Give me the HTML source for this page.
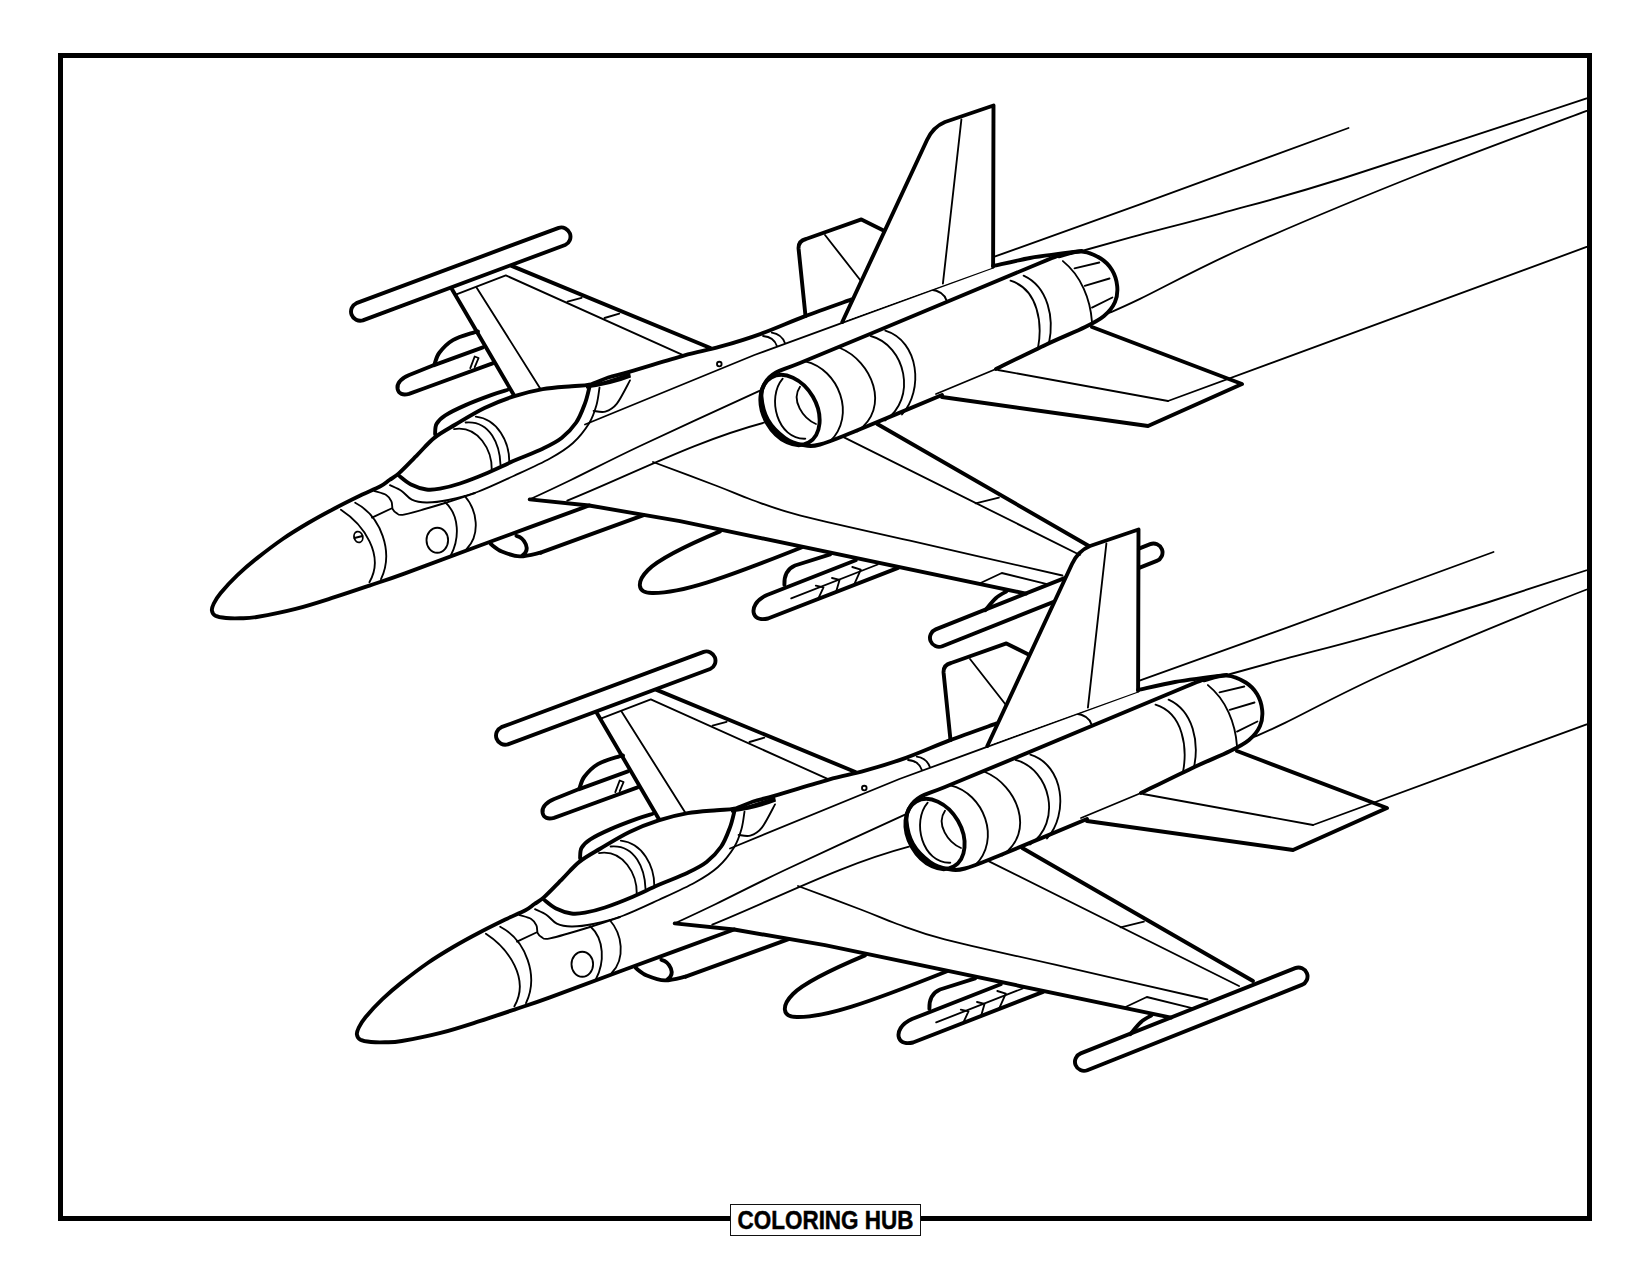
<!DOCTYPE html>
<html><head><meta charset="utf-8"><style>
html,body{margin:0;padding:0;background:#fff;}
body{width:1650px;height:1275px;overflow:hidden;position:relative;}
svg{position:absolute;left:0;top:0;}
.k{fill:none;stroke:#000;stroke-width:3.9;stroke-linecap:round;stroke-linejoin:round;}
.t{fill:none;stroke:#000;stroke-width:1.85;stroke-linecap:round;stroke-linejoin:round;}
.kw{fill:#fff;stroke:#000;stroke-width:3.9;stroke-linecap:round;stroke-linejoin:round;}
.w{fill:#fff;stroke:none;}
.logo{position:absolute;left:729.5px;top:1203.5px;width:191px;height:32px;border:1.6px solid #111;background:#fff;box-sizing:border-box;}
.logo span{position:absolute;left:-60px;top:0;width:calc(100% + 120px);white-space:nowrap;text-align:center;font-family:"Liberation Sans",sans-serif;font-weight:bold;font-size:25.5px;line-height:30px;color:#000;letter-spacing:0px;transform:scaleX(0.88);transform-origin:50% 50%;-webkit-text-stroke:0.5px #000;}
</style></head><body>
<svg width="1650" height="1275" viewBox="0 0 1650 1275">
<defs>
<clipPath id="cp"><rect x="63" y="58" width="1524" height="1158"/></clipPath>
<g id="jet">
<path class="t" d="M1081.8,251 C1091.5,248.3 1116.8,241.2 1140,234.9 C1163.2,228.6 1187.5,222.7 1221.2,213.3 C1254.9,203.9 1279.3,198.4 1342.4,178.5 C1405.5,158.6 1557.1,108.1 1600,94"/>
<path class="t" d="M1109.5,312.7 C1114.6,310.4 1117.3,309.8 1140,298.9 C1162.7,287.9 1198.8,267.8 1245.5,247 C1292.2,226.2 1360.9,197.5 1420,174 C1479.1,150.5 1570,117.3 1600,106"/>
<path class="t" d="M1168,401 L1600,242"/>
<path class="w" d="M805.5,316 L798.6,249 Q798,241 806,239 L861.4,219.4 L883,230.2 L860,300 Z"/>
<path class="k" d="M805.5,316 L798.6,249 Q798,241 806,239 L861.4,219.4 L883,230.2"/>
<path class="t" d="M825,235 L860.4,280.2"/>
<path class="k" d="M942,397 L1148,426 1242,384 1092,327"/>
<path class="t" d="M998,370 L1168,401"/>
<path class="t" d="M936,394 L996,369"/>
<path class="k" d="M452,289.2 L514,395.3"/>
<path class="k" d="M511.6,265.9 L710.4,348"/>
<path class="t" d="M456.4,294.3 L505.8,275.4 683.1,355.1"/>
<path class="t" d="M476.7,287.7 L540.2,388.5"/>
<path class="t" d="M567.5,301.6 L581.6,297.8"/>
<path class="t" d="M604.5,318 L619.3,313.6"/>
<path class="k" d="M434.5,364.3 C435.3,362.4 436.2,356.7 439.3,352.7 C442.4,348.7 447.1,343.5 452.9,340.1 C458.7,336.7 470,333.7 474.2,332.3 C478.4,330.9 477.4,331.6 478,331.5"/>
<path class="k" d="M482.9,347.3 L433.5,365.3 L409.2,375 C401,378.5 396.5,383 397.6,389 C398.6,394 403,395.5 409,393.8 L423.8,388.5 L492.6,363.3"/>
<path class="t" d="M470.3,368.2 L474.7,356.5 L478.6,358 L474.7,367.2"/>
<path class="k" d="M362.8,320.4 L565.1,245 A9.2 9.2 0 0 0 558.7,227.8 L356.4,303.2 A9.2 9.2 0 0 0 362.8,320.4 Z"/>
<path class="k" d="M507.2,390 C504.6,390.8 498.7,392.4 491.8,394.9 C484.9,397.4 473.4,401.7 465.6,405.1 C457.9,408.5 450.2,412.2 445.3,415.3 C440.4,418.4 438.2,420.9 436.5,424 C434.8,427.1 435.3,432.5 435.1,434.2"/>
<path class="k" d="M851.1,299.6 C843.3,302.4 819.5,310.7 804.5,316.4 C789.5,322.1 775,328.8 760.9,333.8 C746.8,338.9 732.9,343.1 720,346.7 C707.1,350.3 698.8,351.5 683.8,355.6 C668.8,359.8 642.6,368 630,371.6 C617.4,375.2 615,375.3 608.2,377.5 C601.4,379.7 595.4,383.2 589.3,384.7 C583.2,386.1 579.6,385.5 571.8,386.2 C564,386.9 552.4,387.4 542.7,389.1 C533,390.8 523.3,393.2 513.6,396.4 C503.9,399.5 494.2,403.3 484.5,408 C474.8,412.7 463.8,419.6 455.5,424.5 C447.2,429.4 440.9,432.6 434.6,437.6 C428.3,442.6 423.6,448.6 417.6,454.6 C411.6,460.6 403.5,469.2 398.8,473.4 C394.1,477.6 392.5,477.8 389.4,480 C386.3,482.2 384.9,483.9 380,486.5 C375.1,489.1 367.9,491.8 360.3,495.5 C352.7,499.2 343.1,503.9 334.5,508.5 C325.9,513 317.2,517.7 308.6,522.8 C300,527.9 291.3,533.1 282.7,539 C274.1,544.9 264.4,552.4 256.8,558.4 C249.2,564.4 243.5,569.4 237.4,575.2 C231.3,581 224.4,588.6 220.5,593.3 C216.6,598 215.2,600.6 213.8,603.5 C212.4,606.4 211.6,608.5 211.9,610.5 C212.2,612.5 213.2,614.5 215.5,615.8 C217.8,617 221.9,617.6 226,618 C230.1,618.4 234.9,618.5 240,618.3 C245.1,618.1 247.5,618.6 256.8,617 C266.1,615.4 282.7,612.2 295.6,608.9 C308.6,605.6 322.2,601.1 334.5,597.2 C346.8,593.3 357.6,589.6 369.4,585.6 C381.1,581.6 386.6,580 405,573.3 C423.4,566.6 449.3,556.8 480,545.5 C510.7,534.2 570.9,512.2 589.1,505.5"/>
<path d="M586,386 Q605,381.5 630,372.5 L631,377.5 Q612,385 586,388.5 Z" fill="#000"/>
<path class="t" d="M763,336 Q774,337 776.9,346"/>
<path class="t" d="M771.8,332.6 Q781.7,334.2 784.9,343"/>
<path class="t" d="M585,424.5 L754.4,355 993.1,267.6"/>
<path class="t" d="M930.5,289.5 Q943.5,291.1 946.5,300.4"/>
<circle class="t" cx="719.3" cy="364" r="2.3"/>
<path class="w" d="M844,321 L927,140 945,122 993.5,105.5 993.1,267.6 Z"/>
<path class="k" d="M842.3,322 L927,140 Q933,127 945,122 L993.5,105.5 L993.1,266.5"/>
<path class="t" d="M961.4,119.4 L942.9,283.6"/>
<path class="k" d="M993.1,266 C999.2,264.7 1018.9,260 1030,258 C1041.2,256 1051.4,255 1060,253.8 C1068.6,252.6 1078.2,251.4 1081.8,250.9"/>
<path class="t" d="M994.5,256.7 L1140,204.4 1348.5,128"/>
<path class="k" d="M398.8,475.5 C400.8,477 406.4,482.2 411,484.5 C415.6,486.8 421.6,488.8 426.4,489.5 C431.2,490.2 434.4,489.7 440,488.7 C445.6,487.7 452.1,486.1 460,483.5 C467.9,480.9 478.5,476.7 487.3,473 C496.1,469.3 503.5,465.4 512.7,461.3 C521.9,457.2 534.6,452.6 542.7,448.7 C550.9,444.8 556,442.4 561.6,438 C567.2,433.6 572.3,428.2 576.2,422.5 C580.1,416.8 582.7,409.4 584.9,403.6 C587.1,397.8 588.6,390.3 589.3,387.6"/>
<path class="t" d="M390,485.1 C391.9,486.1 398,488.5 401.6,490.9 C405.2,493.3 407.7,497.7 411.8,499.6 C415.9,501.5 420.3,502.4 426.4,502.5 C432.5,502.6 439.7,501.8 448.2,500 C456.7,498.2 466.4,496 477.3,492 C488.2,488 501.5,481.6 513.6,476 C525.7,470.4 540.1,464 550,458.5 C559.9,453 566.5,448.9 573,443 C579.5,437.1 585.4,429.3 589.3,423 C593.2,416.7 594.8,410.9 596.5,405 C598.2,399.1 599,390.5 599.5,387.6"/>
<path class="t" d="M593.6,410.9 C595.5,411 601.4,412.8 605.3,411.6 C609.2,410.4 612.8,408.8 616.9,403.6 C621,398.4 627.8,384.3 630,380.4"/>
<path class="t" d="M454,429.1 C478.4,425.3 492.3,450.3 491.8,470.5"/>
<path class="t" d="M465.6,422.5 C490.6,420.2 499.9,445.6 500.5,464.7"/>
<path class="t" d="M475.8,416.7 C497.8,419.1 509.3,442.1 509.3,461.8"/>
<path class="t" d="M374.6,491.1 C376.5,491.8 383.4,493.3 386.2,495 C389,496.7 390.3,499 391.4,501.4 C392.5,503.8 391.8,507.2 392.7,509.2 C393.6,511.1 394.6,512.2 396.6,513.1 C398.7,514 396.9,516.1 405,514.4 C413.1,512.7 433.3,506.6 445,503 C456.7,499.4 470,494.7 475,493"/>
<path class="t" d="M372,517.6 L391.4,508.5"/>
<path class="t" d="M340.9,509.8 C363.5,524.5 385.1,555.1 369.4,582.3"/>
<path class="t" d="M355.2,502.7 C381.4,516.7 393.8,552.3 381,579.1"/>
<path class="t" d="M445,502 C459.8,515.4 459.5,538.5 451,555"/>
<path class="t" d="M464.7,496 C477.3,510.1 480.7,534.4 466.7,549"/>
<ellipse class="t" cx="437.3" cy="540.2" rx="10.8" ry="12.5"/>
<path class="t" d="M529.7,499.4 C536.6,496.2 552.5,488.9 570.9,480 C589.3,471.1 608.5,460.9 640,446 C671.5,431.1 740,399.9 760,390.7"/>
<path class="t" d="M567.3,500.6 C632.6,474.1 695.6,440.9 764,422.7"/>
<path class="k" d="M529.7,499.4 L589.1,505.5 680,521.2 1026,593.6"/>
<path class="t" d="M653,462 C663.7,466 700.5,479.7 717,486 C733.5,492.3 738.4,495.1 752.2,500 C766,504.9 773.4,508.5 799.7,515.3 C826,522.1 866.2,530.7 910,540.7 C953.8,550.7 1037,569.7 1062.4,575.5"/>
<path class="t" d="M980.6,583 L1001.8,573 1048,584.3"/>
<path class="k" d="M942,395 C927.2,401.2 873.6,423.8 853.3,432 C833,440.2 828.4,442.3 820,444.5 C811.6,446.7 808.8,446.1 803,445 C797.2,443.9 790.8,442.2 785,438 C779.2,433.8 771.9,426.8 768,420 C764.1,413.2 762,403.2 761.5,397 C761,390.8 762.6,387.1 765,383 C767.4,378.9 770.2,375.8 776,372.5 C781.8,369.2 784.3,369.4 800,363 C815.7,356.6 830,350.7 870,334 C910,317.3 1008.3,276 1040,263 C1071.7,250 1053,257.9 1060,256 C1067,254.1 1075,251.2 1081.8,251.6 C1088.6,252 1095.7,255.4 1100.7,258.5 C1105.7,261.6 1109.2,265.4 1112,270 C1114.8,274.6 1116.7,280.9 1117.2,286.2 C1117.7,291.5 1117.2,297 1115,302 C1112.8,307 1109,311.8 1104,316 C1099,320.2 1094.8,322.3 1085.2,327 C1075.6,331.7 1061.3,337.4 1046.4,344.4 C1031.5,351.4 1004.4,364.9 996,369"/>
<ellipse class="k" cx="790" cy="410" rx="37.5" ry="26.5" transform="rotate(60 790 410)"/>
<path class="t" d="M782.7,378.7 C766.3,397.7 777.3,439.6 805.3,438.7"/>
<path class="t" d="M800,386.7 C790.6,400.3 803.1,418.5 816,424"/>
<path class="t" d="M805.3,361.3 C838.9,369.1 856.6,415.6 830,441.5"/>
<path class="t" d="M840,348 C871.4,360.8 891.7,407.7 857,431.5"/>
<path class="t" d="M870.7,336 C905.7,345.3 917.5,398.7 885,420.5"/>
<path class="t" d="M885.3,330.7 C919.4,341.2 923.7,390.5 902,414.5"/>
<path class="t" d="M1010.5,280.7 C1038.6,289.4 1042.5,324.1 1038,348"/>
<path class="t" d="M1023.6,275.6 C1048.8,287.2 1054.1,318.9 1049,343"/>
<path class="t" d="M1062.9,261.1 C1081.2,275.8 1090.4,299.2 1092,322"/>
<path class="t" d="M1074.5,268.4 L1099.3,262.5"/>
<path class="t" d="M1084.7,285.8 L1109.5,278.5"/>
<path class="t" d="M1092,307.6 L1112.4,297.5"/>
<path class="k" d="M877.3,424 L1108,557"/>
<path class="t" d="M844,437.3 L1094,562"/>
<path class="t" d="M975.6,503.4 L998.9,497.6"/>
<path class="k" d="M490.9,544.2 C492.7,545.4 496.9,549.5 501.8,551.5 C506.7,553.5 513.5,556.2 520,556.4 C526.5,556.6 537.2,553.3 540.6,552.7"/>
<path class="k" d="M516.4,535.8 C525,538 531,550 522.5,555.5"/>
<path class="k" d="M540.6,552.7 L643.6,515.2"/>
<path class="k" d="M720,531.4 C690,544 660,558 648,570 C637,581 636,593 652,593 C680,593.5 720,580 801.4,547.5"/>
<path class="k" d="M784.4,584.8 C784,575 787,569 795,565.5 L830.2,554.3"/>
<path class="k" d="M855.7,560.2 L767,595 C756,600 752,608 754,614 C756,619 762,620 768,618.5 L898.1,567.9"/>
<path class="t" d="M791.2,598.4 L877.7,564.5"/>
<path class="t" d="M815.8,585.7 L823.5,587.4 L818.4,598.4 M832,578 L839.6,579.8 L836.2,591.6 M852.3,567 L860.8,569.6 L854,584.8"/>
<path class="k" d="M942.3,646.2 L1156.8,560.9 A9 9 0 0 0 1150.2,544.1 L935.7,629.4 A9 9 0 0 0 942.3,646.2 Z"/>
<path class="k" d="M985.2,610.3 C987,608.3 992.3,601.4 995.8,598.2 C999.3,595.1 1004.6,592.5 1006.4,591.4"/>
</g>
</defs>
<g clip-path="url(#cp)">
<use href="#jet"/>
<ellipse class="t" cx="358.4" cy="537" rx="4.3" ry="5.5" transform="rotate(-15 358.4 537)"/><path class="t" d="M354.5,538 L362.5,536"/>
<use href="#jet" transform="translate(145,424)"/>
</g>
<rect x="60.5" y="55.5" width="1529" height="1163" fill="none" stroke="#000" stroke-width="5"/>
</svg>
<div class="logo"><span>COLORING HUB</span></div>
</body></html>
